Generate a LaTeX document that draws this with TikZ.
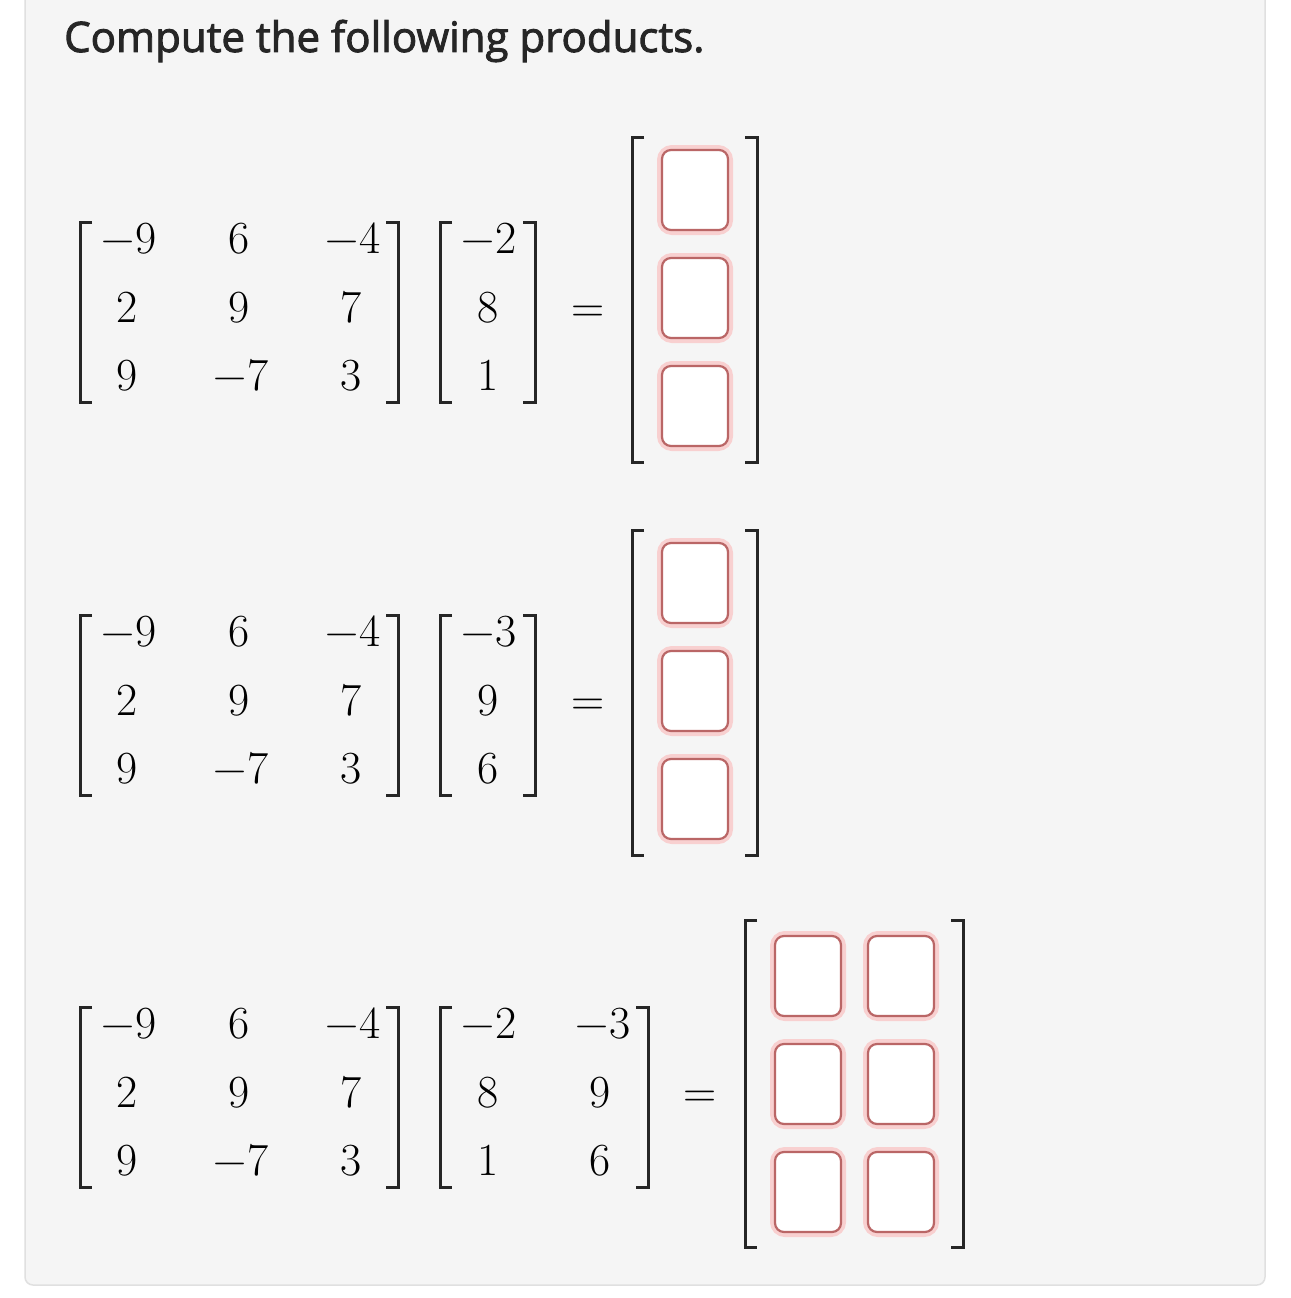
\documentclass[tikz,border=0pt]{standalone}
\usepackage{fontspec}
\newfontfamily\titlefont[FakeBold=2.2]{Open Sans}
\newfontfamily\numfont{Latin Modern Roman}
\begin{document}
\begin{tikzpicture}[x=1pt,y=-1pt,
  ent/.style={font=\numfont\fontsize{46}{46}\selectfont, anchor=base, inner sep=0},
  brk/.style={line width=3pt, color=black!85},
  ansbox/.style={draw=red!55!black!60!white, line width=2.2pt, fill=white, rounded corners=9pt, minimum width=66pt, minimum height=80pt, inner sep=0},
  glow/.style={draw=red!45, line width=10pt, rounded corners=10pt, opacity=0.35}]
\useasboundingbox (0,0) rectangle (1290,1298);
\fill[white] (0,0) rectangle (1290,1298);
\draw[draw=black!12, fill=black!4, line width=1.5pt, rounded corners=8pt] (25,-20) rectangle (1265,1285);
\node[anchor=base west, inner sep=0, font=\titlefont\fontsize{42}{42}\selectfont, text=black!85] (title) at (64,52) {Compute the following products.};

\newcommand{\lbrk}[3]{\draw[brk] (#1+12,#2) -- (#1,#2) -- (#1,#3) -- (#1+12,#3);}
\newcommand{\rbrk}[3]{\draw[brk] (#1-12,#2) -- (#1,#2) -- (#1,#3) -- (#1-12,#3);}
\newcommand{\abox}[3]{\draw[glow] (#2-33,#3-40) rectangle (#2+33,#3+40); \node[ansbox] (#1) at (#2,#3) {};}

\foreach \o/\k in {0/1,393/2,785/3}{
  \lbrk{80}{222+\o}{402+\o}
  \rbrk{398}{222+\o}{402+\o}
  \node[ent] (a\k11) at (129,253+\o) {−9};
  \node[ent] (a\k12) at (239,253+\o) {6};
  \node[ent] (a\k13) at (353,253+\o) {−4};
  \node[ent] (a\k21) at (127,322+\o) {2};
  \node[ent] (a\k22) at (239,322+\o) {9};
  \node[ent] (a\k23) at (351,322+\o) {7};
  \node[ent] (a\k31) at (127,390+\o) {9};
  \node[ent] (a\k32) at (241,390+\o) {−7};
  \node[ent] (a\k33) at (351,390+\o) {3};
}
\lbrk{440}{222}{402} \rbrk{535}{222}{402}
\node[ent] (b11) at (489,253) {−2};
\node[ent] (b21) at (488,322) {8};
\node[ent] (b31) at (488,390) {1};
\node[ent] (eq1) at (588,322) {=};
\lbrk{632}{137}{462} \rbrk{757}{137}{462}
\abox{r11}{695}{190} \abox{r12}{695}{298} \abox{r13}{695}{406}
\lbrk{440}{615}{795} \rbrk{535}{615}{795}
\node[ent] (b12) at (489,646) {−3};
\node[ent] (b22) at (488,715) {9};
\node[ent] (b32) at (488,783) {6};
\node[ent] (eq2) at (588,715) {=};
\lbrk{632}{530}{855} \rbrk{757}{530}{855}
\abox{r21}{695}{583} \abox{r22}{695}{691} \abox{r23}{695}{799}
\lbrk{440}{1007}{1187} \rbrk{648}{1007}{1187}
\node[ent] (c11) at (489,1038) {−2};
\node[ent] (c12) at (603,1038) {−3};
\node[ent] (c21) at (488,1107) {8};
\node[ent] (c22) at (600,1107) {9};
\node[ent] (c31) at (488,1175) {1};
\node[ent] (c32) at (600,1175) {6};
\node[ent] (eq3) at (700,1107) {=};
\lbrk{745}{920}{1247} \rbrk{963}{920}{1247}
\abox{s11}{808}{976} \abox{s12}{901}{976}
\abox{s21}{808}{1084} \abox{s22}{901}{1084}
\abox{s31}{808}{1192} \abox{s32}{901}{1192}
\end{tikzpicture}
\end{document}
